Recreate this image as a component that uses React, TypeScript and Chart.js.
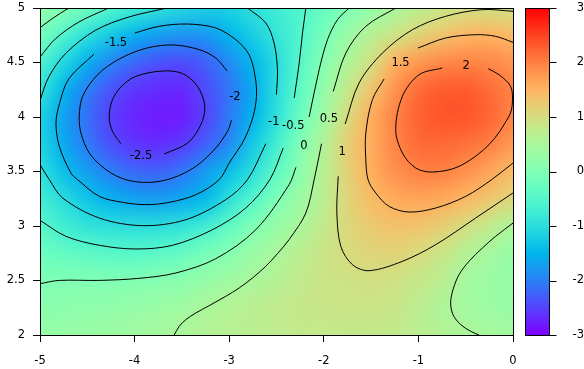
import React, { useEffect, useRef } from "react";
import { Chart, registerables } from "chart.js";

Chart.register(...registerables);

const gridXs = [-5, -4.75, -4.5, -4.25, -4, -3.75, -3.5, -3.25, -3, -2.75, -2.5, -2.25, -2, -1.75, -1.5, -1.25, -1, -0.75, -0.5, -0.25, 0];
const gridYs = [5, 4.75, 4.5, 4.25, 4, 3.75, 3.5, 3.25, 3, 2.75, 2.5, 2.25, 2];

const row500 = [0.18, 0.07, -0.22, -0.52, -0.75, -0.93, -1.09, -1.2, -1.16, -0.96, -0.75, -0.55, -0.29, -0.02, 0.24, 0.49, 0.7, 0.85, 0.94, 0.97, 0.93];
const row475 = [-0.12, -0.56, -0.97, -1.27, -1.54, -1.72, -1.82, -1.78, -1.49, -1.22, -0.87, -0.53, -0.1, 0.3, 0.66, 0.9, 1.14, 1.33, 1.48, 1.52, 1.43];
const row450 = [-0.58, -1.08, -1.53, -1.94, -2.2, -2.38, -2.42, -2.27, -1.9, -1.46, -1.02, -0.48, 0.07, 0.54, 0.95, 1.52, 1.78, 1.93, 1.97, 1.93, 1.82];
const row425 = [-0.87, -1.48, -2.0, -2.37, -2.6, -2.68, -2.7, -2.42, -2.08, -1.6, -1.0, -0.37, 0.23, 0.8, 1.32, 1.83, 2.17, 2.3, 2.31, 2.17, 1.97];
const row400 = [-1.17, -1.68, -2.13, -2.52, -2.72, -2.8, -2.78, -2.49, -2.05, -1.5, -0.95, -0.25, 0.38, 1.03, 1.57, 1.96, 2.25, 2.36, 2.35, 2.22, 1.95];
const row375 = [-1.13, -1.6, -2.05, -2.4, -2.6, -2.66, -2.55, -2.27, -1.92, -1.27, -0.7, 0.0, 0.58, 1.2, 1.58, 1.94, 2.17, 2.2, 2.12, 2.0, 1.75];
const row350 = [-0.95, -1.38, -1.72, -2.02, -2.2, -2.25, -2.09, -1.75, -1.38, -0.98, -0.4, 0.13, 0.65, 1.15, 1.56, 1.85, 1.99, 1.98, 1.85, 1.66, 1.42];
const row325 = [-0.72, -1.02, -1.33, -1.55, -1.69, -1.73, -1.63, -1.45, -0.95, -0.52, -0.04, 0.33, 0.7, 1.12, 1.42, 1.6, 1.66, 1.62, 1.47, 1.3, 1.1];
const row300 = [-0.46, -0.72, -0.9, -0.98, -1.0, -1.0, -0.92, -0.72, -0.36, 0.0, 0.27, 0.5, 0.78, 1.08, 1.27, 1.36, 1.33, 1.2, 1.0, 0.76, 0.52];
const row275 = [-0.23, -0.33, -0.4, -0.45, -0.46, -0.42, -0.3, -0.1, 0.06, 0.3, 0.49, 0.7, 0.88, 1.02, 1.12, 1.14, 1.03, 0.87, 0.62, 0.42, 0.28];
const row250 = [-0.04, 0.0, 0.0, 0.0, 0.02, 0.06, 0.13, 0.27, 0.37, 0.5, 0.63, 0.78, 0.88, 0.92, 0.95, 0.92, 0.83, 0.7, 0.43, 0.33, 0.24];
const row225 = [0.13, 0.16, 0.19, 0.22, 0.26, 0.31, 0.38, 0.51, 0.6, 0.69, 0.76, 0.82, 0.86, 0.89, 0.89, 0.87, 0.7, 0.55, 0.42, 0.33, 0.28];
const row200 = [0.25, 0.28, 0.31, 0.34, 0.38, 0.44, 0.52, 0.6, 0.66, 0.7, 0.75, 0.78, 0.78, 0.78, 0.78, 0.76, 0.7, 0.62, 0.55, 0.46, 0.42];
const gridRows = [row500, row475, row450, row425, row400, row375, row350, row325, row300, row275, row250, row225, row200];

const levelM25 = [[-4.145, 3.755], [-4.233, 3.868], [-4.268, 3.991], [-4.24, 4.144], [-4.145, 4.275], [-3.986, 4.373], [-3.705, 4.422], [-3.493, 4.398], [-3.335, 4.281], [-3.258, 4.098], [-3.3, 3.93], [-3.44, 3.761], [-3.687, 3.661]];
const levelM20 = [[-3.022, 4.422], [-3.142, 4.541], [-3.317, 4.618], [-3.599, 4.661], [-3.881, 4.63], [-4.162, 4.532], [-4.391, 4.388], [-4.549, 4.19], [-4.585, 4.006], [-4.567, 3.853], [-4.479, 3.67], [-4.303, 3.517], [-4.092, 3.425], [-3.845, 3.4], [-3.599, 3.44], [-3.353, 3.547], [-3.142, 3.716], [-3.018, 3.869], [-2.976, 3.969]];
const levelM15 = [[-4.431, 4.575], [-4.695, 4.351], [-4.794, 4.122], [-4.831, 3.945], [-4.796, 3.731], [-4.673, 3.486], [-4.602, 3.425], [-4.373, 3.272], [-4.127, 3.217], [-3.881, 3.196], [-3.634, 3.217], [-3.353, 3.287], [-3.106, 3.425], [-3.0, 3.578], [-2.842, 3.792], [-2.747, 4.006], [-2.712, 4.19], [-2.726, 4.373], [-2.79, 4.572], [-2.93, 4.709], [-3.142, 4.817], [-3.441, 4.853], [-3.74, 4.832], [-3.997, 4.771]];
const levelM10Top = [[-5, 4.153], [-4.907, 4.367], [-4.731, 4.581], [-4.414, 4.795], [-4.062, 4.917], [-3.657, 5]];
const levelM10Low = [[-5, 3.563], [-4.901, 3.425], [-4.761, 3.257], [-4.373, 3.073], [-3.916, 3.003], [-3.458, 3.058], [-3.036, 3.242], [-2.807, 3.425], [-2.613, 3.755]];
const levelM10Right = [[-2.501, 4.205], [-2.49, 4.434], [-2.526, 4.679], [-2.613, 4.862], [-2.807, 5]];
const levelM05Top = [[-5, 4.55], [-4.836, 4.718], [-4.59, 4.871], [-4.273, 5]];
const levelM05Low = [[-5, 3.052], [-4.725, 2.905], [-4.373, 2.823], [-3.986, 2.789], [-3.599, 2.823], [-3.177, 2.966], [-2.825, 3.165], [-2.571, 3.425], [-2.429, 3.715]];
const levelM05Right = [[-2.313, 4.174], [-2.26, 4.495], [-2.225, 4.771], [-2.19, 5]];
const level00Top = [[-5, 4.819], [-4.872, 4.902], [-4.695, 5]];
const level00Low = [[-5, 2.471], [-4.796, 2.501], [-4.373, 2.501], [-3.951, 2.52], [-3.564, 2.569], [-3.142, 2.7], [-2.719, 2.966], [-2.367, 3.379], [-2.295, 3.538]];
const level00Right = [[-2.155, 4.0], [-2.049, 4.434], [-1.961, 4.709], [-1.855, 4.893], [-1.732, 5]];
const level05Low = [[-3.581, 2], [-3.529, 2.079], [-3.458, 2.141], [-3.353, 2.202], [-3.212, 2.269], [-3.036, 2.355], [-2.895, 2.431], [-2.754, 2.523], [-2.614, 2.63], [-2.49, 2.746], [-2.367, 2.875], [-2.19, 3.119], [-2.102, 3.425], [-2.024, 3.755]];
const level05Up = [[-1.9, 4.235], [-1.767, 4.587], [-1.556, 4.832], [-1.239, 5]];
const level05Right = [[0, 3.027], [-0.184, 2.905], [-0.324, 2.798], [-0.465, 2.676], [-0.571, 2.553], [-0.634, 2.416], [-0.659, 2.294], [-0.634, 2.186], [-0.553, 2.095], [-0.447, 2.034], [-0.36, 2]];
const level10Up = [[-1.774, 3.936], [-1.627, 4.312], [-1.38, 4.587], [-1.063, 4.801], [-0.711, 4.924], [-0.324, 4.985], [0, 4.97]];
const level10Low = [[-1.848, 3.456], [-1.862, 3.119], [-1.82, 2.813], [-1.697, 2.645], [-1.521, 2.59], [-1.169, 2.676], [-0.817, 2.829], [-0.395, 3.073], [0, 3.303]];
const level15Low = [[-1.363, 4.349], [-1.486, 4.159], [-1.556, 3.853], [-1.556, 3.609], [-1.532, 3.425], [-1.451, 3.303], [-1.31, 3.18], [-1.099, 3.128], [-0.817, 3.165], [-0.5, 3.272], [-0.226, 3.425], [0, 3.578]];
const level15Up = [[-1.004, 4.633], [-0.711, 4.725], [-0.395, 4.755], [-0.184, 4.74], [0, 4.685]];
const level20 = [[-0.747, 4.45], [-0.993, 4.388], [-1.169, 4.19], [-1.24, 3.884], [-1.169, 3.67], [-1.028, 3.532], [-0.852, 3.495], [-0.571, 3.547], [-0.254, 3.746], [-0.043, 4.006], [-0.007, 4.128], [-0.025, 4.281], [-0.148, 4.388], [-0.261, 4.443]];

const contourPieces = [levelM25, levelM20, levelM15, levelM10Top, levelM10Low, levelM10Right, levelM05Top, levelM05Low, levelM05Right, level00Top, level00Low, level00Right, level05Low, level05Up, level05Right, level10Up, level10Low, level15Low, level15Up, level20];

const labelTexts = ["-2.5", "-2", "-1.5", "-1", "-0.5", "0", "0.5", "1", "1.5", "2"];
const labelXs = [-3.931, -2.94, -4.197, -2.528, -2.323, -2.21, -1.946, -1.805, -1.189, -0.496];
const labelYs = [3.642, 4.187, 4.676, 3.951, 3.915, 3.734, 3.982, 3.676, 4.493, 4.468];

const xTicks = [-5, -4, -3, -2, -1, 0];
const yTicks = [2, 2.5, 3, 3.5, 4, 4.5, 5];
const barTicks = [-3, -2, -1, 0, 1, 2, 3];

const FONT = '"DejaVu Sans"';
const FONT_SIZE = 11.5;
const BAR_LEFT = 525;
const BAR_RIGHT = 549;
const BAR_TICK = 7;

function colorOf(v: number): [number, number, number] {
  const t = Math.min(1, Math.max(0, (v + 3) / 6));
  const r = Math.min(1, Math.abs(2 * t - 0.5));
  const g = Math.max(0, Math.sin(Math.PI * t));
  const b = Math.max(0, Math.cos((Math.PI * t) / 2));
  return [Math.round(r * 255), Math.round(g * 255), Math.round(b * 255)];
}

const heatPlugin = {
  id: "heat",
  beforeDatasetsDraw(chart: any) {
    const { ctx, scales } = chart;
    const nx = gridXs.length;
    const ny = gridYs.length;
    const off = document.createElement("canvas");
    off.width = nx;
    off.height = ny;
    const octx = off.getContext("2d")!;
    const img = octx.createImageData(nx, ny);
    gridRows.forEach((row, j) => {
      row.forEach((v, i) => {
        const [r, g, b] = colorOf(v);
        const k = (j * nx + i) * 4;
        img.data[k] = r;
        img.data[k + 1] = g;
        img.data[k + 2] = b;
        img.data[k + 3] = 255;
      });
    });
    octx.putImageData(img, 0, 0);
    const x0 = scales.x.getPixelForValue(gridXs[0]);
    const x1 = scales.x.getPixelForValue(gridXs[nx - 1]);
    const y0 = scales.y.getPixelForValue(gridYs[0]);
    const y1 = scales.y.getPixelForValue(gridYs[ny - 1]);
    ctx.save();
    ctx.imageSmoothingEnabled = true;
    ctx.imageSmoothingQuality = "high";
    ctx.drawImage(off, 0.5, 0.5, nx - 1, ny - 1, x0, y0, x1 - x0, y1 - y0);
    ctx.restore();
  },
  afterDatasetsDraw(chart: any) {
    const { ctx, scales, chartArea } = chart;
    ctx.save();
    ctx.font = `${FONT_SIZE}px ${FONT}`;
    ctx.fillStyle = "#000";
    ctx.textAlign = "center";
    ctx.textBaseline = "middle";
    labelTexts.forEach((t, i) => {
      ctx.fillText(t, scales.x.getPixelForValue(labelXs[i]), scales.y.getPixelForValue(labelYs[i]));
    });
    ctx.strokeStyle = "#000";
    ctx.lineWidth = 1;
    ctx.strokeRect(chartArea.left + 0.5, chartArea.top + 0.5, chartArea.right - chartArea.left, chartArea.bottom - chartArea.top);

    const bar = scales.bar;
    const top = bar.getPixelForValue(3);
    const bottom = bar.getPixelForValue(-3);
    for (let py = Math.floor(top); py <= bottom; py++) {
      const [r, g, b] = colorOf(bar.getValueForPixel(py + 0.5));
      ctx.fillStyle = `rgb(${r},${g},${b})`;
      ctx.fillRect(BAR_LEFT, py, BAR_RIGHT - BAR_LEFT, 1);
    }
    ctx.strokeRect(BAR_LEFT + 0.5, top + 0.5, BAR_RIGHT - BAR_LEFT, bottom - top);
    barTicks.forEach((v) => {
      const py = Math.round(bar.getPixelForValue(v)) + 0.5;
      ctx.beginPath();
      ctx.moveTo(BAR_RIGHT, py);
      ctx.lineTo(BAR_RIGHT + BAR_TICK + 0.5, py);
      ctx.stroke();
    });
    ctx.restore();
  },
};

const noPad = (s: any) => {
  s.paddingTop = 0;
  s.paddingBottom = 0;
  s.paddingLeft = 0;
  s.paddingRight = 0;
};

export default function App() {
  const ref = useRef<HTMLCanvasElement>(null);
  useEffect(() => {
    const font = { family: FONT, size: FONT_SIZE };
    const chart = new Chart(ref.current!, {
      type: "line",
      data: {
        datasets: contourPieces.map((piece) => ({
          data: piece.map(([x, y]) => ({ x, y })),
          borderColor: "#000",
          borderWidth: 1,
          pointRadius: 0,
          tension: 0.33,
          fill: false,
        })),
      },
      options: {
        animation: false,
        responsive: false,
        events: [],
        elements: { line: { capBezierPoints: false } },
        layout: { padding: { top: 8, left: 0, right: 0, bottom: 0 } },
        plugins: { legend: { display: false }, tooltip: { enabled: false } },
        scales: {
          x: {
            type: "linear",
            min: -5,
            max: 0,
            afterBuildTicks: (s: any) => { s.ticks = xTicks.map((value) => ({ value })); },
            afterFit: (s: any) => { s.height = 34; noPad(s); },
            grid: { drawOnChartArea: false, tickLength: 7, tickColor: "#000", tickWidth: 1 },
            border: { color: "#000" },
            ticks: { font, color: "#000", padding: 12, maxRotation: 0, autoSkip: false, callback: (v: any) => String(v) },
          },
          y: {
            type: "linear",
            min: 2,
            max: 5,
            afterBuildTicks: (s: any) => { s.ticks = yTicks.map((value) => ({ value })); },
            afterFit: (s: any) => { s.width = 40; noPad(s); },
            grid: { drawOnChartArea: false, tickLength: 7, tickColor: "#000", tickWidth: 1 },
            border: { color: "#000" },
            ticks: { font, color: "#000", padding: 8, autoSkip: false, callback: (v: any) => String(v) },
          },
          bar: {
            type: "linear",
            position: "right",
            min: -3,
            max: 3,
            afterBuildTicks: (s: any) => { s.ticks = barTicks.map((value) => ({ value })); },
            afterFit: (s: any) => { s.width = 71; noPad(s); },
            grid: { display: false },
            border: { display: false },
            ticks: { font, color: "#000", padding: 42, crossAlign: "far", autoSkip: false, callback: (v: any) => String(v) },
          },
        },
      },
      plugins: [heatPlugin],
    } as any);
    return () => chart.destroy();
  }, []);
  return (
    <div style={{ position: "absolute", left: 0, top: 0 }}>
      <canvas ref={ref} width={584} height={369} style={{ display: "block" }} />
    </div>
  );
}
